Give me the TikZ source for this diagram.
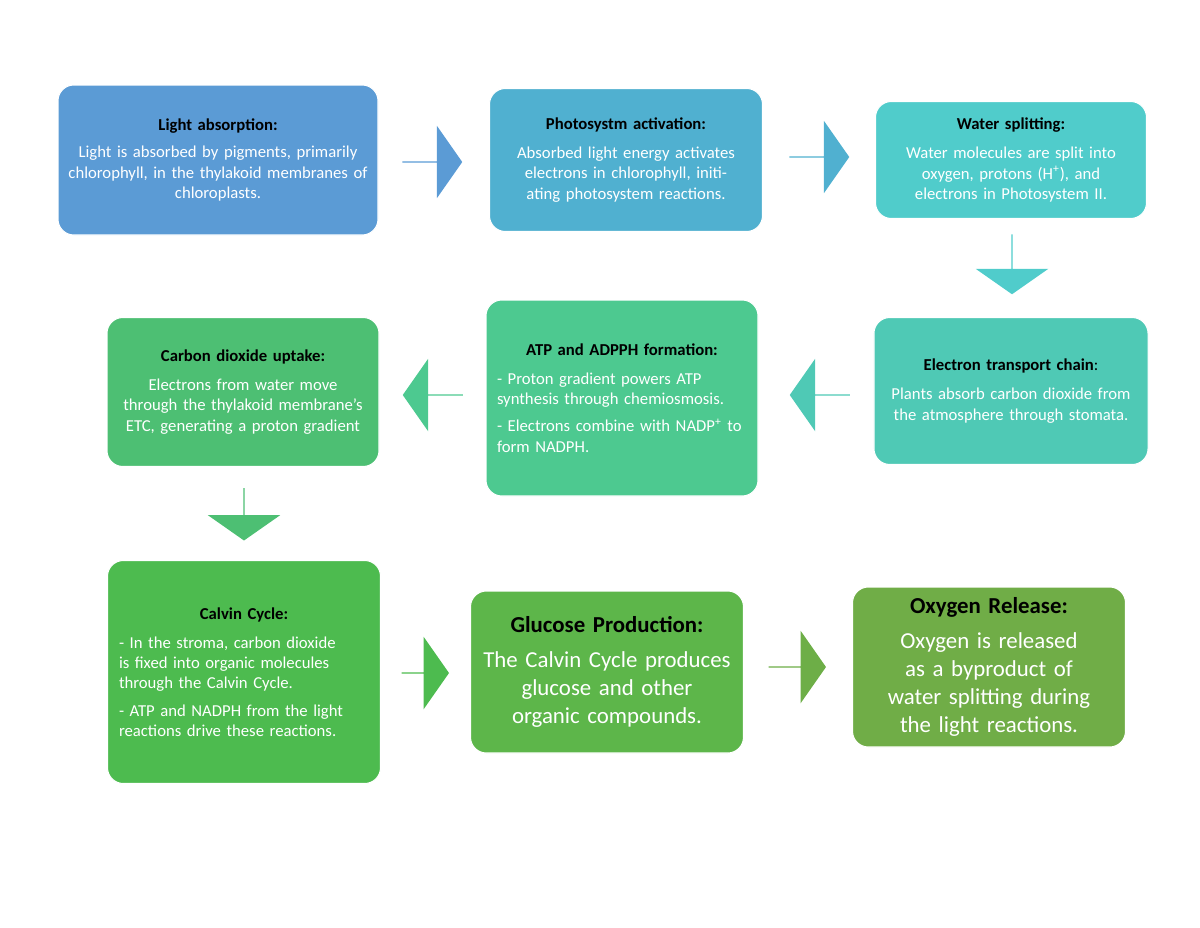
\documentclass[tikz,border=0pt]{standalone}
\usepackage{fontspec}
\setmainfont{Carlito}
\usetikzlibrary{shapes.arrows}
\definecolor{cA}{HTML}{5B9BD5}
\definecolor{cB}{HTML}{50B0D0}
\definecolor{cC}{HTML}{50CCCB}
\definecolor{cD}{HTML}{4FC9B5}
\definecolor{cE}{HTML}{4DC990}
\definecolor{cF}{HTML}{4DBF73}
\definecolor{cG}{HTML}{4DBB4F}
\definecolor{cH}{HTML}{5DB64A}
\definecolor{cI}{HTML}{70AD47}
\tikzset{
    box/.style={draw=white, line width=0.6pt, rounded corners=9pt, text=white, inner sep=4pt, font=\fontsize{9.5}{11.5}\selectfont},
    bigbox/.style={box, font=\fontsize{13}{16}\selectfont},
    blk/.style={single arrow, draw=none, inner sep=0pt, single arrow tip angle=110, single arrow head extend=0.35cm, minimum width=1.45cm, minimum height=1.2cm}
}
\newcommand{\ttl}[1]{{\color{black}\bfseries #1}}
\newcommand{\justif}{\leftskip=0pt\rightskip=0pt\parfillskip=0pt plus 1fil\parindent=0pt}
\begin{document}
\begin{tikzpicture}[x=0.02cm, y=-0.02cm]
\useasboundingbox (0,0) rectangle (1200,927);
% boxes
\node[box, fill=cA, minimum width=320*0.02cm, minimum height=150*0.02cm, text width=300*0.02cm, align=left] (light) at (218,160)
    {\centering\ttl{Light absorption:}\par\vspace{4pt}Light is absorbed by pigments, primarily chlorophyll, in the thylakoid membranes of chloroplasts.\par};
\node[box, fill=cB, minimum width=273*0.02cm, minimum height=143*0.02cm, text width=255*0.02cm, align=center] (photo) at (626,160)
    {\ttl{Photosystm activation:}\\[5pt]Absorbed light energy activates electrons in chlorophyll, initiating photosystem reactions.};
\node[box, fill=cC, minimum width=271*0.02cm, minimum height=117*0.02cm, text width=240*0.02cm, align=center] (water) at (1011,160)
    {\ttl{Water splitting:}\\[5pt]Water molecules are split into oxygen, protons (H\textsuperscript{+}), and electrons in Photosystem II.};
\node[box, fill=cD, minimum width=271*0.02cm, minimum height=147*0.02cm, text width=260*0.02cm, align=center] (etc) at (1011,391)
    {{\color{black}\textbf{Electron transport chain}:}\\[5pt]Plants absorb carbon dioxide from the atmosphere through stomata.};
\node[box, fill=cE, minimum width=272*0.02cm, minimum height=196*0.02cm, text width=250*0.02cm, align=left] (atp) at (622,398)
    {\centering\ttl{ATP and ADPPH formation:}\par\vspace{5pt}\raggedright - Proton gradient powers ATP synthesis through chemiosmosis.\par\vspace{4pt}- Electrons combine with NADP\textsuperscript{+} to form NADPH.\par};
\node[box, fill=cF, minimum width=272*0.02cm, minimum height=149*0.02cm, text width=240*0.02cm, align=center] (co2) at (243,392)
    {\ttl{Carbon dioxide uptake:}\\[5pt]Electrons from water move through the thylakoid membrane's ETC, generating a proton gradient};
\node[box, fill=cG, minimum width=273*0.02cm, minimum height=223*0.02cm, text width=250*0.02cm, align=left] (calvin) at (244,672)
    {\centering\ttl{Calvin Cycle:}\par\vspace{5pt}\justif - In the stroma, carbon dioxide is fixed into organic molecules through the Calvin Cycle.\par\vspace{4pt}- ATP and NADPH from the light reactions drive these reactions.\par};
\node[bigbox, fill=cH, minimum width=273*0.02cm, minimum height=162*0.02cm, text width=250*0.02cm, align=center] (gluc) at (607,672)
    {\ttl{Glucose Production:}\\[4pt]The Calvin Cycle produces glucose and other organic compounds.};
\node[bigbox, fill=cI, minimum width=273*0.02cm, minimum height=160*0.02cm, text width=235*0.02cm, align=center] (oxy) at (989,667)
    {\ttl{Oxygen Release:}\\[4pt]Oxygen is released as a byproduct of water splitting during the light reactions.};
% block arrows
\node[blk, fill=cA] (a1) at (432,162) {};
\node[blk, fill=cB] (a2) at (819,157) {};
\node[blk, fill=cC, rotate=-90] (a3) at (1012,264) {};
\node[blk, fill=cD, rotate=180] (a4) at (820,395) {};
\node[blk, fill=cE, rotate=180] (a5) at (433,395) {};
\node[blk, fill=cF, rotate=-90, minimum height=1.05cm] (a6) at (244,514) {};
\node[blk, fill=cG, minimum height=0.95cm] (a7) at (425,673) {};
\node[blk, fill=cI!85!cH, minimum height=1.15cm] (a8) at (797,667) {};
\end{tikzpicture}
\end{document}
